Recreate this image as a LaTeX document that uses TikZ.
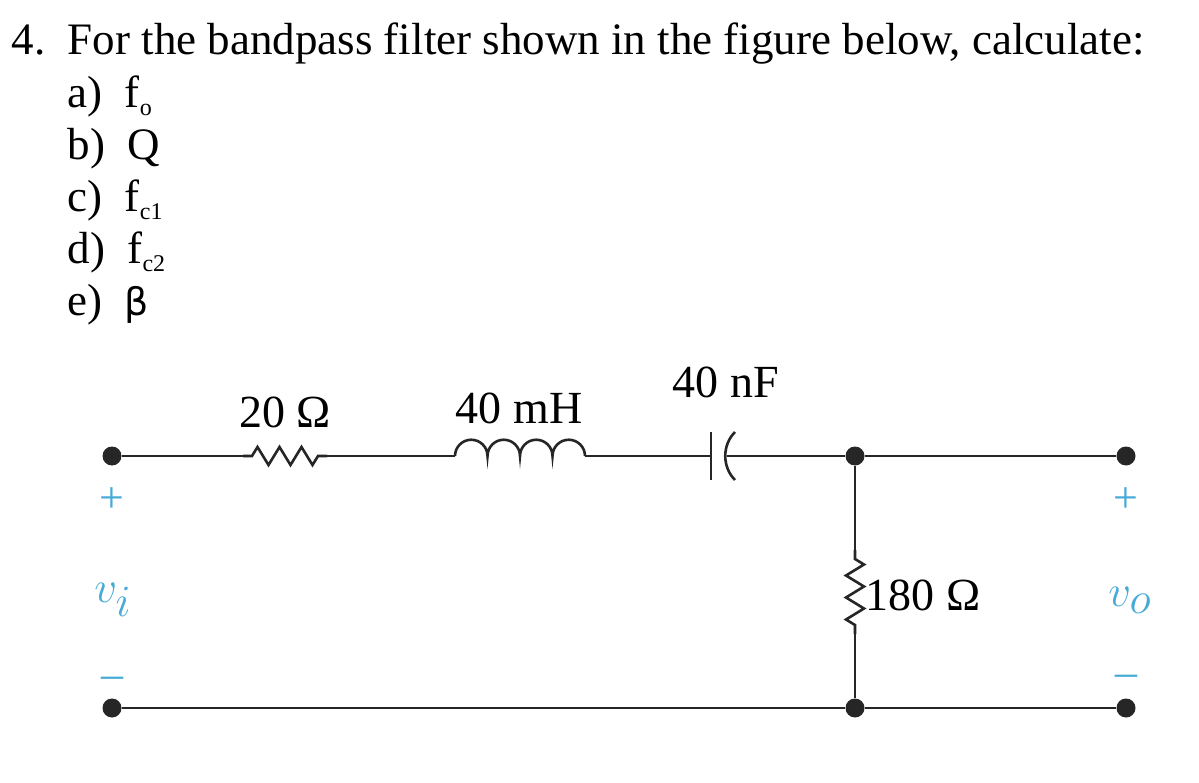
\documentclass[tikz,border=0pt]{standalone}
\usepackage{graphicx}
\usepackage{fontspec}
\setmainfont{Liberation Serif}
\newfontfamily\symf{DejaVu Sans}
\usetikzlibrary{decorations.pathmorphing}
\definecolor{cy}{RGB}{70,170,215}
\newcommand{\sbx}[1]{\raisebox{-0.35ex}{\fontsize{24}{28}\selectfont #1}}
\newcommand{\polmath}[1]{\scalebox{1.8}{$#1$}}
\begin{document}
\begin{tikzpicture}[x=1pt,y=-1pt,
  wire/.style={line width=2.6pt,draw=black!85},
  dotn/.style={circle,fill=black!85,inner sep=0pt,minimum size=19pt},
  q/.style={anchor=base west,font=\fontsize{45}{50}\selectfont},
  val/.style={font=\fontsize{46}{52}\selectfont},
  pol/.style={text=cy,font=\fontsize{44}{50}\selectfont}]
\useasboundingbox (0,0) rectangle (1199,783);
\node[q] (t) at (8,55) {4.\ \ For the bandpass filter shown in the figure below, calculate:};
\node[q] (a) at (64,108) {a)\ \ f\sbx{o}};
\node[q] (b) at (64,160) {b)\ \ Q};
\node[q] (c) at (64,212) {c)\ \ f\sbx{c1}};
\node[q] (d) at (64,264) {d)\ \ f\sbx{c2}};
\node[q] (e) at (64,316) {e)\ \ {\symf\fontsize{38}{44}\selectfont β}};
% nodes
\node[dotn] (A) at (112,456) {};
\node[dotn] (B) at (112,708) {};
\node[dotn] (N1) at (855,456) {};
\node[dotn] (N2) at (855,708) {};
\node[dotn] (C) at (1126,456) {};
\node[dotn] (D) at (1126,708) {};
\coordinate (r1a) at (243,456); \coordinate (r1b) at (327,456);
\coordinate (l1a) at (455,456); \coordinate (l1b) at (585,456);
\coordinate (c1a) at (711,456); \coordinate (c1b) at (727,456);
\coordinate (r2a) at (855,550); \coordinate (r2b) at (855,634);
\draw[wire] (A) -- (r1a);
\draw[wire,decorate,decoration={zigzag,segment length=22pt,amplitude=9pt,pre length=9pt,post length=9pt}] (r1a) -- (r1b);
\draw[wire] (r1b) -- (l1a);
\draw[wire] (l1a) \foreach \i in {0,...,3} {arc[start angle=180,end angle=0,radius=16.25pt]} ;
\draw[wire] (l1b) -- (c1a);
\draw[wire] (c1a) ++(0,-24) -- ++(0,48);
\draw[wire] (735,432) .. controls (722,445) and (722,467) .. (735,480);
\draw[wire] (c1b) -- (N1) -- (C);
\draw[wire] (N1) -- (r2a);
\draw[wire,decorate,decoration={zigzag,segment length=22pt,amplitude=9pt,pre length=9pt,post length=9pt}] (r2a) -- (r2b);
\draw[wire] (r2b) -- (N2);
\draw[wire] (B) -- (N2) -- (D);
\node[val] (lr1) at (285,412) {20 Ω};
\node[val] (ll1) at (519,408) {40 mH};
\node[val] (lc1) at (726,382) {40 nF};
\node[val,anchor=west] (lr2) at (862,595) {180 Ω};
\node[pol] (p1) at (112,500) {+};
\node[pol] (vi) at (113,600) {\polmath{v_i}};
\node[pol] (m1) at (112,683) {--};
\node[pol] (p2) at (1126,500) {+};
\node[pol] (vo) at (1130,600) {\polmath{v_o}};
\node[pol] (m2) at (1126,681) {--};
\end{tikzpicture}
\end{document}
